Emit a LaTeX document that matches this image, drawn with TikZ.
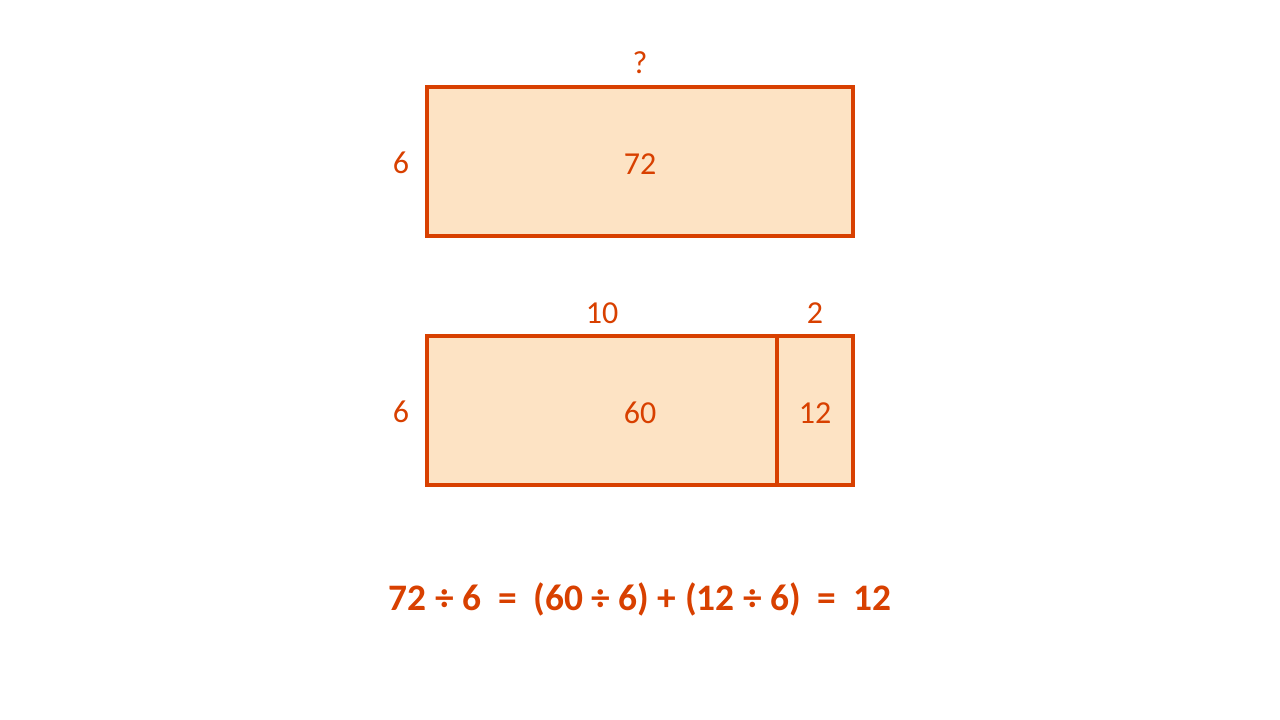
\documentclass[tikz,border=0pt]{standalone}
\usepackage{fontspec}
\setmainfont{Carlito}
\definecolor{stroke}{HTML}{D84000}
\definecolor{fillc}{HTML}{FDE3C4}
\tikzset{
  box/.style={draw=stroke, fill=fillc, line width=3.5pt},
  lbl/.style={text=stroke, font=\fontsize{32}{38}\selectfont, inner sep=0pt},
  eq/.style={text=stroke, font=\fontsize{37.4}{44}\selectfont\bfseries, inner sep=0pt}
}
\begin{document}
\begin{tikzpicture}[x=1pt,y=-1pt]
\useasboundingbox (0,0) rectangle (1280,720);
% top rectangle
\draw[box] (427,87) rectangle (853,236);
\node[lbl] (q) at (640,63) {?};
\node[lbl] (s1) at (401,163) {6};
\node[lbl] (a1) at (640,164) {72};
% bottom rectangles
\draw[box] (427,336) rectangle (777,485);
\draw[box] (777,336) rectangle (853,485);
\node[lbl] (t10) at (602,313) {10};
\node[lbl] (t2) at (815,313) {2};
\node[lbl] (s2) at (401,412) {6};
\node[lbl] (a60) at (640,413) {60};
\node[lbl] (a12) at (815,413) {12};
% equation
\node[eq] (eqn) at (640,599) {72 ÷ 6\ \ =\ \ (60 ÷ 6) + (12 ÷ 6)\ \ =\ \ 12};
\end{tikzpicture}
\end{document}
